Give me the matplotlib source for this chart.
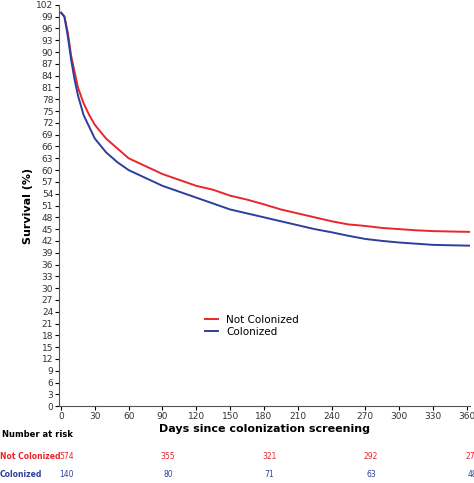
import matplotlib
matplotlib.use("Agg")
import matplotlib.pyplot as plt
import numpy as np

days = [0, 3, 6, 9, 12, 15, 20, 25, 30, 40, 50, 60, 75, 90, 105, 120, 135, 150, 165, 180,
        195, 210, 225, 240, 255, 270, 285, 300, 315, 330, 345, 362]
not_colonized = [100, 99, 95, 89, 85, 81, 77, 74, 71.5, 68, 65.5, 63, 61, 59, 57.5, 56, 55, 53.5, 52.5, 51.3,
                 50, 49, 48, 47, 46.2, 45.8, 45.3, 45, 44.7, 44.5, 44.4, 44.3]
colonized = [100, 99, 94, 88, 83, 79, 74, 71, 68, 64.5, 62, 60, 58, 56, 54.5, 53, 51.5, 50, 49, 48,
             47, 46, 45, 44.2, 43.3, 42.5, 42, 41.6, 41.3, 41, 40.9, 40.8]

risk_days = [0, 90, 180, 270, 360]
risk_not = [574, 355, 321, 292, 277]
risk_col = [140, 80, 71, 63, 48]

RED = "#e8262c"
BLUE = "#2b3f9e"

fig = plt.figure(figsize=(4.74, 4.83), dpi=100)
ax = fig.add_axes([0.124, 0.159, 0.868, 0.831])
ax.plot(days, not_colonized, color=RED, lw=1.4, label="Not Colonized")
ax.plot(days, colonized, color=BLUE, lw=1.4, label="Colonized")
ax.set_xlim(-2, 363)
ax.set_ylim(0, 102)
ax.set_xticks(np.arange(0, 361, 30))
ax.set_yticks(np.arange(0, 103, 3))
ax.tick_params(labelsize=6.5, labelcolor="#333333", length=3, pad=1)
for s in ("top", "right"):
    ax.spines[s].set_visible(False)
for s in ("left", "bottom"):
    ax.spines[s].set_color("#555555")
ax.set_xlabel("Days since colonization screening", fontsize=8, fontweight="bold", labelpad=2)
ax.set_ylabel("Survival (%)", fontsize=8, fontweight="bold", labelpad=2)
ax.legend(loc="center", bbox_to_anchor=(0.47, 0.2), frameon=False, fontsize=7.5,
          handlelength=1.2, labelspacing=0.2)

fig.text(0.005, 0.095, "Number at risk", fontsize=6, fontweight="bold")
fig.text(0.0, 0.05, "Not Colonized", fontsize=5.5, color=RED, fontweight="bold")
fig.text(0.0, 0.012, "Colonized", fontsize=5.5, color=BLUE, fontweight="bold")
for d, n, c in zip(risk_days, risk_not, risk_col):
    xf = ax.transData.transform((d, 0))[0] / fig.bbox.width + 0.012
    fig.text(xf, 0.05, str(n), fontsize=5.5, color=RED, ha="center")
    fig.text(xf, 0.012, str(c), fontsize=5.5, color=BLUE, ha="center")

fig.savefig("out.png", dpi=100)
